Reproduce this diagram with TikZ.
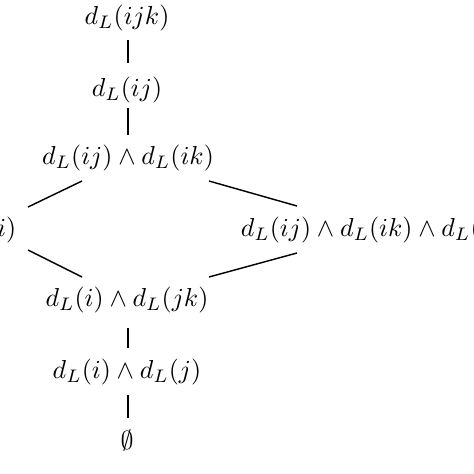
\documentclass[tikz,border=0pt]{standalone}
\usetikzlibrary{calc}
\begin{document}
\begin{tikzpicture}[x=0.385pt,y=-0.385pt,
  lat/.style={inner sep=0pt},
  edge/.style={line width=0.55pt}]
\useasboundingbox (0,0) rectangle (474,474);
\node[lat] (ijk) at (127,18) {$d_L(ijk)$};
\node[lat] (ij) at (127,90) {$d_L(ij)$};
\node[lat] (mid) at (128,158) {$d_L(ij)\wedge d_L(ik)$};
\node[lat] (left) at (-13,230) {$d_L(i)$};
\node[lat] (right) at (379,230) {$d_L(ij)\wedge d_L(ik)\wedge d_L(jk)$};
\node[lat] (ijk2) at (127,300) {$d_L(i)\wedge d_L(jk)$};
\node[lat] (ij2) at (127,372) {$d_L(i)\wedge d_L(j)$};
\node[lat] (empty) at (127,440) {$\emptyset$};
\draw[edge] ($(ijk)+(1,22)$) -- ($(ij)+(1,-27)$);
\draw[edge] ($(ij)+(1,18)$) -- ($(mid)+(0,-23)$);
\draw[edge] ($(mid)+(-46,23)$) -- ($(left)+(41,-23)$);
\draw[edge] ($(mid)+(81,23)$) -- ($(right)+(-82,-24)$);
\draw[edge] ($(left)+(41,20)$) -- ($(ijk2)+(-45,-23)$);
\draw[edge] ($(right)+(-82,23)$) -- ($(ijk2)+(82,-23)$);
\draw[edge] ($(ijk2)+(1,28)$) -- ($(ij2)+(1,-24)$);
\draw[edge] ($(ij2)+(1,23)$) -- ($(empty)+(1,-22)$);
\end{tikzpicture}
\end{document}
